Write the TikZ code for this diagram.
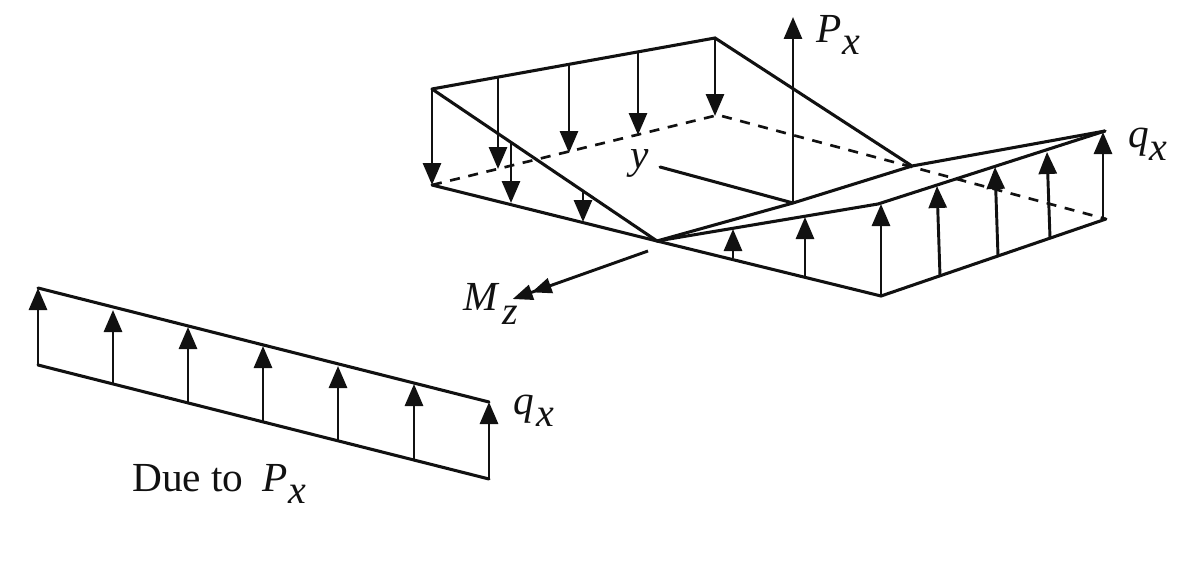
\documentclass[tikz,border=0pt]{standalone}
\usepackage{fontspec}
\setmainfont{Liberation Serif}
\usetikzlibrary{arrows.meta}
\definecolor{ink}{HTML}{111111}
\tikzset{
  ln/.style={draw=ink,line width=2.3pt,line cap=round},
  thin ln/.style={draw=ink,line width=2pt},
  dsh/.style={draw=ink,line width=2pt,dash pattern=on 7.5pt off 6.5pt},
  force/.style={draw=ink,line width=2.2pt,-{Triangle[width=13.5pt,length=16.5pt]}},
  dbl/.style={draw=ink,line width=2.2pt,-{Triangle[width=11.5pt,length=15pt]Triangle[width=11.5pt,length=15pt,sep=-9pt]}},
  lab/.style={text=ink,inner sep=0pt,anchor=base west,font=\fontsize{31}{31}\selectfont\itshape},
  sub/.style={text=ink,inner sep=0pt,anchor=base west,font=\fontsize{30}{30}\selectfont\itshape},
  rom/.style={text=ink,inner sep=0pt,anchor=base west,font=\fontsize{31}{31}\selectfont}
}
\begin{document}
\begin{tikzpicture}[x=0.75pt,y=-0.75pt]
\useasboundingbox (0,0) rectangle (1184,560);
% upper figure corners
\coordinate (A) at (432,89);
\coordinate (B) at (715,38);
\coordinate (C) at (432,185);
\coordinate (D) at (718,115);
\coordinate (O) at (657,241);
\coordinate (E) at (912,166);
\coordinate (F) at (1105,131);
\coordinate (G) at (881,296);
\coordinate (H) at (1106,219);
\coordinate (J) at (793,203);
\coordinate (K) at (878,204);
\coordinate (L) at (793,17);
\coordinate (Y) at (660,167);
\coordinate (M1) at (648,251);
\coordinate (M2) at (524,295);
% dashed base
\draw[dsh] (C) -- (D) -- (H);
% outline
\draw[ln] (A) -- (B) -- (E) -- (F);
\draw[ln] (A) -- (O);
\draw[ln] (C) -- (O) -- (G) -- (H);
\draw[ln] (O) -- (J) -- (E);
\draw[ln] (O) -- (K) -- (F);
\draw[ln] (Y) -- (J);
% P_x and M_z
\draw[force] (J) -- (L);
\draw[dbl] (M1) -- (M2);
% downward arrows
\coordinate (a1s) at (432,89);  \coordinate (a1e) at (432,185);
\coordinate (a2s) at (498,78);  \coordinate (a2e) at (498,169);
\coordinate (a3s) at (569,65);  \coordinate (a3e) at (569,153);
\coordinate (a4s) at (638,52);  \coordinate (a4e) at (638,135);
\coordinate (a5s) at (715,38);  \coordinate (a5e) at (715,116);
\coordinate (a6s) at (511,143); \coordinate (a6e) at (511,203);
\coordinate (a7s) at (583,192); \coordinate (a7e) at (583,222);
\foreach \n in {1,...,7} \draw[force] (a\n s) -- (a\n e);
% upward arrows right
\coordinate (b1s) at (733,258);  \coordinate (b1e) at (733,229);
\coordinate (b2s) at (805,277);  \coordinate (b2e) at (805,217);
\coordinate (b3s) at (881,296);  \coordinate (b3e) at (881,204);
\coordinate (b4s) at (940,276);  \coordinate (b4e) at (937,186);
\coordinate (b5s) at (998,256);  \coordinate (b5e) at (995,167);
\coordinate (b6s) at (1050,238); \coordinate (b6e) at (1047,152);
\coordinate (b7s) at (1103,219); \coordinate (b7e) at (1103,132);
\foreach \n in {1,...,7} \draw[force] (b\n s) -- (b\n e);
% lower figure
\coordinate (P) at (38,288);
\coordinate (Q) at (489,402);
\coordinate (R) at (38,365);
\coordinate (S) at (489,479);
\draw[ln] (P) -- (Q);
\draw[ln] (R) -- (S);
\coordinate (c1s) at (38,365);   \coordinate (c1e) at (38,288);
\coordinate (c2s) at (113,384);  \coordinate (c2e) at (113,310);
\coordinate (c3s) at (188,403);  \coordinate (c3e) at (188,327);
\coordinate (c4s) at (263,422);  \coordinate (c4e) at (263,346);
\coordinate (c5s) at (338,441);  \coordinate (c5e) at (338,366);
\coordinate (c6s) at (414,460);  \coordinate (c6e) at (414,384);
\coordinate (c7s) at (489,479);  \coordinate (c7e) at (489,402);
\foreach \n in {1,...,7} \draw[force] (c\n s) -- (c\n e);
% labels
\node[lab] (lP) at (816,43) {P};
\node[sub] (lPx) at (842,55) {x};
\node[lab] (lq) at (1128,147) {q};
\node[sub] (lqx) at (1149,160) {x};
\node[lab] (ly) at (630,168) {y};
\node[lab] (lM) at (463,310) {M};
\node[sub] (lMz) at (502,324) {z};
\node[lab] (lq2) at (513,414) {q};
\node[sub] (lq2x) at (536,426) {x};
\node[rom] (ldue) at (132,491) {Due to};
\node[lab] (lP2) at (262,491) {P};
\node[sub] (lP2x) at (288,503) {x};
\end{tikzpicture}
\end{document}
